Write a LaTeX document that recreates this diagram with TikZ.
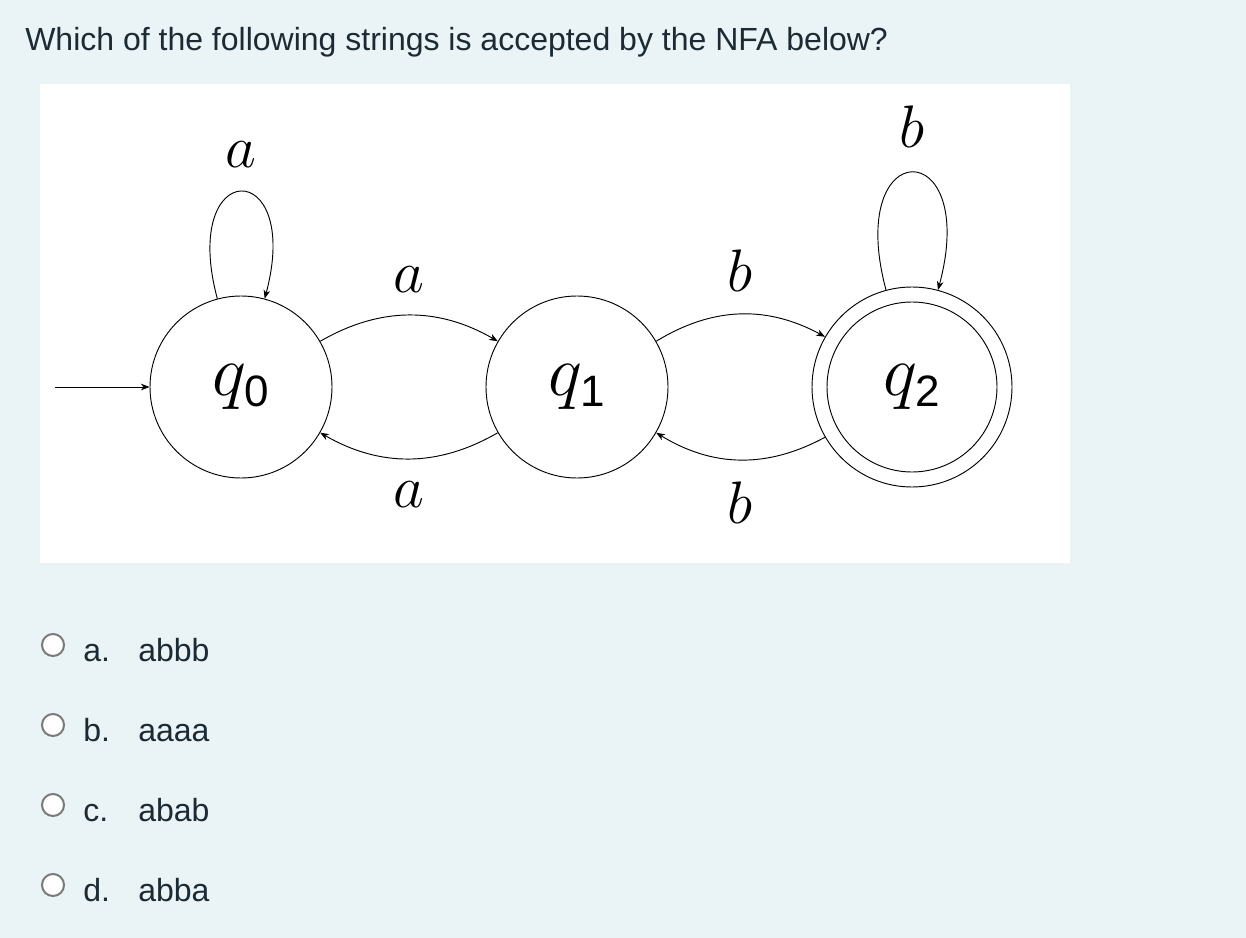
\RequirePackage{fix-cm}
\documentclass[tikz,border=0pt]{standalone}
\usepackage{fontspec}
\setmainfont{Liberation Sans}
\usetikzlibrary{arrows.meta}
\definecolor{bg}{HTML}{EAF3F6}
\definecolor{ink}{HTML}{1C2B33}
\definecolor{radiogray}{HTML}{7A7A7A}
\newcommand{\stname}[1]{$q_{\mbox{\fontsize{33}{33}\selectfont #1}}$}
\begin{document}
\begin{tikzpicture}[x=0.75pt, y=0.75pt,
    st/.style={circle, draw, line width=0.7pt, minimum size=136.5pt, inner sep=0pt, font=\fontsize{54}{60}\selectfont},
    trans/.style={-{Stealth[length=6.5pt, width=5pt, inset=2pt]}, line width=0.7pt},
    lbl/.style={font=\fontsize{45}{50}\selectfont, inner sep=0pt},
    txt/.style={font=\fontsize{24}{28}\selectfont, text=ink, inner sep=0pt, anchor=base west},
    radio/.style={circle, draw=radiogray, line width=1.5pt, fill=white, minimum size=16.5pt, inner sep=0pt}]
    \fill[bg] (0,0) rectangle (1246,-938);
    \useasboundingbox (0,0) rectangle (1246,-938);
    \fill[white] (40,-84) rectangle (1070,-563);

    \node[txt] (title) at (25,-51) {Which of the following strings is accepted by the NFA below?};

    % states
    \node[st] (q0) at (241,-387) {\stname{0}};
    \node[st] (q1) at (577,-387) {\stname{1}};
    \node[st, minimum size=150pt] (q2) at (912,-387) {\stname{2}};
    \draw[line width=0.7pt] (q2.center) circle[radius=63.75pt];

    % transitions
    \coordinate (init) at (55,-387);
    \draw[trans] (init) -- (q0);
    \draw[trans] (q0) to[loop above] node[lbl, above=18pt] {$a$} (q0);
    \draw[trans] (q0) to[bend left=30] node[lbl, above=17pt] {$a$} (q1);
    \draw[trans] (q1) to[bend left=30] node[lbl, below=16.5pt] {$a$} (q0);
    \draw[trans] (q1) to[bend left=30] node[lbl, above=17pt] {$b$} (q2);
    \draw[trans] (q2) to[bend left=30] node[lbl, below=16.5pt] {$b$} (q1);
    \draw[trans] (q2) to[loop above] node[lbl, above=18pt] {$b$} (q2);

    % answers
    \foreach \k/\str [count=\i from 0] in {a/abbb, b/aaaa, c/abab, d/abba} {
        \node[radio] (radio\k) at (53,-645-80*\i) {};
        \node[txt] (opt\k) at (83,-661-80*\i) {\k.};
        \node[txt] (str\k) at (138,-661-80*\i) {\str};
    }
\end{tikzpicture}
\end{document}
